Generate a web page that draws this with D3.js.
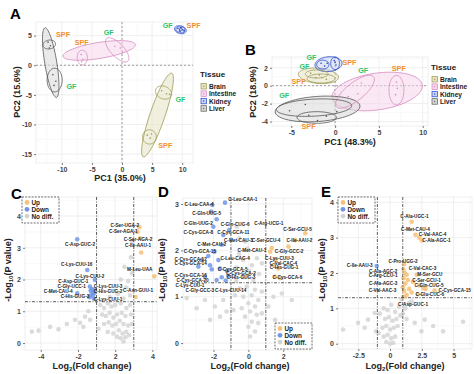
<!DOCTYPE html>
<html>
<head>
<meta charset="utf-8">
<script src="https://cdn.jsdelivr.net/npm/d3@7"></script>
<style>
  body { margin: 0; background: #fff; }
  text { font-family: "Liberation Sans", Arial, sans-serif; }
</style>
</head>
<body>
<div id="chart"></div>
<script>
// ---------- data ----------
const tissues = ["Brain", "Intestine", "Kidney", "Liver"];

// PCA ellipses: [tissue, group, cx, cy, rx, ry, angle(deg)]
const pcaAEllipses = [
  ["Liver", "all", -11.85, 0.45, 5.95, 1.0, -80.8],
  ["Liver", "SPF", -12.1, 3.5, 0.75, 1.05, -80],
  ["Liver", "GF", -11.2, -2.5, 1.25, 2.0, 0],
  ["Intestine", "all", -3.8, 2.5, 6.1, 1.35, 9.3],
  ["Intestine", "SPF", -6.6, 1.3, 0.85, 1.25, 0],
  ["Intestine", "GF", -0.8, 2.6, 2.6, 1.1, -47],
  ["Kidney", "all", 9.7, 6.0, 1.0, 0.65, -15],
  ["Kidney", "GF", 9.45, 6.05, 0.5, 0.45, 0],
  ["Kidney", "SPF", 10.0, 5.95, 0.45, 0.5, 0],
  ["Brain", "all", 5.9, -8.4, 7.45, 1.25, 71.5],
  ["Brain", "GF", 6.9, -4.6, 1.4, 1.05, -25],
  ["Brain", "SPF", 4.55, -12.1, 1.15, 1.2, 0]
];
const pcaAPoints = [
  ["Liver", -12.3, 3.9], ["Liver", -11.9, 3.3], ["Liver", -12.1, 2.9],
  ["Liver", -11.5, -1.6], ["Liver", -11.0, -2.7], ["Liver", -11.3, -3.4],
  ["Intestine", -6.8, 1.8], ["Intestine", -6.5, 1.0], ["Intestine", -6.7, 0.6],
  ["Intestine", -0.3, 2.9], ["Intestine", 0.1, 2.2], ["Intestine", -1.2, 3.2],
  ["Kidney", 9.3, 6.2], ["Kidney", 9.6, 5.9], ["Kidney", 9.8, 6.3], ["Kidney", 10.1, 6.0], ["Kidney", 10.3, 5.8],
  ["Brain", 6.6, -4.3], ["Brain", 7.4, -4.8], ["Brain", 7.9, -4.9],
  ["Brain", 4.2, -11.8], ["Brain", 4.7, -12.3], ["Brain", 4.9, -11.6]
];
const pcaALabels = [
  ["SPF", -9.8, 5.2], ["SPF", -6.7, 3.9], ["GF", -2.2, 5.6], ["GF", 7.6, 6.7],
  ["SPF", 11.9, 6.7], ["GF", -8.4, -3.6], ["GF", 9.7, -5.85], ["SPF", 7.2, -13.6]
];

const pcaBEllipses = [
  ["Intestine", "all", 4.8, -0.65, 5.2, 2.05, 8],
  ["Intestine", "GF", 2.27, -0.67, 2.7, 1.0, 38],
  ["Intestine", "SPF", 7.0, -0.5, 0.85, 1.65, 0],
  ["Liver", "all", -2.0, -2.6, 4.85, 1.4, 4],
  ["Liver", "GF", -2.4, -2.45, 4.3, 0.95, 3],
  ["Liver", "SPF", -2.1, -3.55, 2.25, 0.65, 0],
  ["Brain", "all", -1.9, 1.1, 2.3, 0.85, -5],
  ["Brain", "GF", -2.1, 1.3, 1.3, 0.45, 0],
  ["Brain", "SPF", -1.6, 0.8, 1.6, 0.5, 0],
  ["Kidney", "all", -0.75, 2.4, 1.55, 0.82, 5],
  ["Kidney", "GF", -1.4, 2.35, 0.7, 0.5, 0],
  ["Kidney", "SPF", 0.0, 2.5, 0.5, 0.7, 0]
];
const pcaBPoints = [
  ["Kidney", -1.6, 2.5], ["Kidney", -1.2, 2.2], ["Kidney", -0.9, 2.5], ["Kidney", -0.1, 2.8], ["Kidney", 0.1, 2.3], ["Kidney", 0.0, 2.6],
  ["Brain", -2.8, 1.4], ["Brain", -1.8, 1.2], ["Brain", -2.2, 0.9], ["Brain", -1.0, 0.7], ["Brain", -1.5, 0.9],
  ["Intestine", 3.0, 0.3], ["Intestine", 1.5, -1.2], ["Intestine", 2.6, -0.9], ["Intestine", 7.0, 0.4], ["Intestine", 6.9, -1.0], ["Intestine", 7.1, -0.3],
  ["Liver", -5.2, -2.8], ["Liver", -3.4, -2.1], ["Liver", 0.2, -2.9], ["Liver", -3.0, -3.3], ["Liver", -2.0, -3.9], ["Liver", -1.0, -3.4]
];
const pcaBLabels = [
  ["GF", -2.7, 3.1], ["GF", -3.5, 2.1], ["SPF", 1.63, 2.6], ["SPF", -4.17, 0.45],
  ["GF", 3.2, 1.74], ["SPF", 7.27, 1.93], ["GF", -5.8, -1.14], ["SPF", -3.03, -4.6]
];

// volcano C
const cUp = [[1.3, 3.65], [1.2, 3.5], [1.35, 3.3], [1.4, 2.85], [2.1, 2.1], [1.1, 1.45]];
const cDown = [[-2.04, 3.27], [-1.5, 2.3], [-1.09, 1.99], [-1.36, 1.78], [-1.32, 1.65], [-2.04, 1.57],
  [-1.39, 1.44], [-1.25, 1.7], [-1.2, 1.6], [-1.15, 1.4], [-1.1, 1.68], [-1.18, 1.52], [-1.3, 1.5], [-1.12, 1.58]];
const cNone = [[-4.48, 0.36], [-4.12, 0.39], [-3.5, 0.51], [-3.05, 0.43], [-2.6, 0.6], [-2.16, 0.73],
  [-1.89, 0.64], [-1.62, 0.83], [-1.44, 1.0], [-1.35, 0.73], [-1.71, 0.51],
  [-0.8, 1.2], [-0.6, 1.1], [-0.4, 1.25], [-0.2, 1.15], [0.0, 1.2], [0.3, 1.25], [0.6, 1.1], [0.8, 1.2],
  [-0.7, 0.9], [-0.5, 0.85], [-0.3, 0.95], [-0.1, 0.8], [0.1, 0.9], [0.35, 0.95], [0.55, 0.85], [0.85, 0.9],
  [-0.6, 0.6], [-0.35, 0.65], [-0.15, 0.55], [0.05, 0.6], [0.25, 0.7], [0.45, 0.6], [0.7, 0.55],
  [-0.4, 0.35], [-0.1, 0.3], [0.2, 0.4], [0.4, 0.3], [0.6, 0.35], [0.3, 0.15], [0.45, 0.05], [0.1, 0.2],
  [0.55, 0.18], [0.9, 0.6], [-0.9, 0.45], [0.75, 0.25],
  [0.9, 3.2], [0.85, 2.7], [0.5, 2.4], [0.3, 2.0], [0.6, 1.75], [0.15, 1.55], [0.8, 1.5], [-0.3, 1.45],
  [0.45, 1.4], [0.9, 2.2], [0.7, 1.95]];
const cLabels = [
  ["C-Ser-UGA-2", 0.52, 3.69], ["C-Ser-AGA-1", 0.44, 3.51], ["C-Ser-AGA-2", 1.23, 3.25],
  ["C-Ile-AAU-1", 1.23, 3.06], ["M-Leu-UAA", 1.32, 2.32], ["C-Asp-GUC-2", -1.89, 3.09],
  ["C-Lys-CUU-16", -2.07, 2.46], ["C-Lys-CUU-2", -1.36, 2.11], ["C-Asp-GUC-1", -2.25, 1.93],
  ["C-Gly-UCC-1", -2.34, 1.78], ["C-Met-CAU-4", -3.06, 1.62], ["C-His-GUG-3", -2.16, 1.46],
  ["C-Lys-CUU-3", -0.38, 1.78], ["C-His-GUG-2", -0.38, 1.62], ["C-Lys-CUU-1", -0.38, 1.38],
  ["C-Asn-GUU-1", 1.23, 1.64]
];
const cTicks = [-4, -2, 0, 2];
const cTickLabels = ["-4", "-2", "2", "4"];

// volcano D
const dUp = [[3.26, 2.37], [2.68, 2.22], [2.3, 2.08], [1.34, 2.05], [1.25, 1.97], [1.53, 1.79],
  [1.44, 1.68], [1.72, 1.61], [1.53, 1.43], [1.82, 1.4]];
const dDown = [[-1.34, 3.03], [-2.07, 2.98], [-2.14, 2.84], [-1.82, 2.67], [-2.01, 2.51], [-1.1, 2.44],
  [-1.44, 2.33], [-1.53, 2.12], [-1.95, 1.97], [-2.3, 1.88], [-1.72, 1.79], [-2.2, 1.68], [-2.1, 1.59],
  [-1.63, 1.61], [-1.24, 1.56], [-1.15, 1.45], [-1.53, 1.42], [-1.82, 1.36], [-1.3, 1.35],
  [-2.68, 1.79], [-2.87, 1.65], [-2.49, 1.43]];
const dNone = [[-0.67, 2.51], [-0.52, 2.26], [-0.2, 2.19], [-0.06, 2.04], [-0.54, 1.92], [-0.31, 1.79],
  [0.2, 1.68], [0.49, 1.83], [-0.67, 1.63], [0.04, 1.56], [0.61, 1.49], [-0.25, 1.42], [-0.69, 1.35],
  [0.29, 1.36], [0.78, 1.72],
  [-0.48, 1.18], [-0.1, 1.22], [0.38, 1.15], [0.77, 1.11], [-0.77, 1.03], [-0.29, 1.0], [0.19, 1.03],
  [0.57, 0.93], [0, 0.86], [0.38, 0.79], [-0.38, 0.75], [0.1, 0.68], [0.48, 0.61], [-0.19, 0.57],
  [0.19, 0.46], [0.57, 0.43], [0, 0.35], [0.38, 0.25], [0.1, 0.14], [0.77, 0.64], [-0.86, 0.71],
  [-3.54, 0.97], [-2.97, 0.75], [-2.49, 0.93], [-1.92, 0.79], [-1.44, 0.93], [-1.25, 0.68],
  [-1.63, 0.57], [-2.2, 0.5],
  [1.15, 0.79], [1.53, 0.5], [2.49, 0.93], [1.92, 1.07], [1.44, 1.0]];
const dLabels = [
  ["C-Leu-CAA-1", -0.32, 3.1], ["C-Leu-CAA-4", -2.83, 2.98], ["C-Gln-UUG-5", -2.39, 2.79],
  ["C-Gln-UUG-2", -2.87, 2.57], ["C-Gln-CUG-6", -0.76, 2.56], ["C-Arg-UCG-1", 1.17, 2.57],
  ["C-Ser-GCU-5", 2.82, 2.46], ["C-Cys-GCA-8", -2.87, 2.38], ["C-Cys-GCA-11", -0.86, 2.38],
  ["C-Met-CAU-3", -0.57, 2.22], ["C-Ser-GCU-4", 1.02, 2.22], ["C-Ile-AAU-2", 2.93, 2.22],
  ["C-Met-CAU-2", -2.1, 2.12], ["C-Cys-GCA-15", -2.78, 1.97], ["C-Met-CAU-1", 0.2, 1.99],
  ["C-Gly-GCC-2", 2.34, 1.97], ["C-Leu-CAG-4", -0.76, 1.83], ["C-Cys-GCA-12", -3.31, 1.81],
  ["C-Cys-GCA-14", -3.31, 1.72], ["C-Lys-CUU-3", 1.78, 1.83], ["C-Val-CAC-4", 2.01, 1.72],
  ["C-His-GUG-1", 2.05, 1.63], ["C-Cys-GCA-5", -0.9, 1.59], ["C-Cys-GCA-2", -0.42, 1.5],
  ["C-His-GUG-3", -0.42, 1.42], ["C-Cys-GCA-6", 2.24, 1.42], ["C-Cys-GCA-16", -3.31, 1.45],
  ["C-Cys-GCA-20", -3.2, 1.36], ["C-Lys-CUU-1", -3.35, 1.25], ["C-Gly-GCC-3", -2.78, 1.13],
  ["C-Lys-CUU-14", -1.01, 1.13]
];

// volcano E
const eUp = [[1.7, 3.45], [2.0, 3.08], [2.3, 3.0], [2.5, 2.92], [1.1, 2.25], [1.05, 2.1], [1.15, 2.0],
  [1.3, 1.95], [2.1, 1.95], [1.05, 1.85], [1.4, 1.8], [1.8, 1.75], [1.2, 1.7], [2.3, 1.65], [1.0, 1.6],
  [1.5, 1.55], [2.6, 1.58], [3.5, 1.5], [1.1, 1.5], [1.7, 1.45], [2.2, 1.4], [1.3, 1.38], [1.05, 1.33],
  [2.8, 1.55]];
const eDown = [[-1.05, 2.2]];
const eNone = [[-0.5, 1.0], [-0.2, 0.95], [0.1, 1.1], [0.4, 0.9], [0.7, 1.05], [-0.4, 0.7], [-0.1, 0.75],
  [0.2, 0.65], [0.5, 0.7], [0.8, 0.8], [-0.6, 0.45], [-0.3, 0.5], [0.0, 0.4], [0.3, 0.45], [0.6, 0.5],
  [-0.5, 0.2], [-0.2, 0.25], [0.1, 0.15], [0.4, 0.2], [0.0, 0.0], [-0.3, 0.05], [0.25, 0.02],
  [1.2, 1.0], [1.5, 1.15], [1.0, 0.85], [1.7, 1.2], [0.9, 1.25], [1.3, 0.7], [-0.8, 0.85], [-0.9, 0.3],
  [-3.7, 0.4], [-2.52, 0.59], [-1.73, 0.68], [-1.21, 0.87], [-2.0, 0.45], [-1.1, 0.35],
  [2.47, 0.35], [2.73, 0.68], [4.17, 0.35], [5.75, 0.62], [1.94, 0.59], [3.39, 0.5]];
const eLabels = [
  ["C-Ala-UGC-1", 1.92, 3.61], ["C-Met-CAU-4", 2.0, 3.23], ["C-Val-AAC-4", 3.34, 3.09],
  ["C-Ala-AGC-1", 3.65, 2.92], ["C-Pro-UGG-2", 1.02, 2.33], ["C-Val-CAC-3", 2.55, 2.12],
  ["M-Ser-GCU", 3.13, 1.96], ["C-Ala-AGC-2", -0.55, 2.04], ["C-Arg-CCU-1", -0.55, 1.93],
  ["C-Ser-GCU-1", 2.87, 1.79], ["C-Ala-AGC-3", -0.55, 1.7], ["C-Gln-CUG-5", 3.07, 1.64],
  ["C-Cys-GCA-15", 5.09, 1.51], ["C-Val-AAC-3", -0.6, 1.51], ["C-Glu-CUC-6", 3.13, 1.39],
  ["C-Asp-GUC-1", 1.81, 1.1], ["C-Ile-AAU-3", -2.39, 2.21]
];
const statusNames = ["Up", "Down", "No diff."];

// ---------- styles ----------
const tStroke = { Brain: "#9d9a55", Intestine: "#d58cc0", Kidney: "#2443c4", Liver: "#555555" };
const tFill = { Brain: "#e6e3c3", Intestine: "#f6d6ec", Kidney: "#c9d5f6", Liver: "#d9d9d9" };
const groupColor = { GF: "#2fc467", SPF: "#f28e2b" };
const statusColor = { "Up": "#f6c27a", "Down": "#7196e6", "No diff.": "#d2d2d2" };

const svg = d3.select("#chart").append("svg")
  .attr("width", 474)
  .attr("height", 374);

function styleAxis(ax) {
  ax.select(".domain").remove();
  ax.selectAll("line").attr("stroke", "#444").attr("stroke-width", 0.7);
  ax.selectAll("text").attr("font-size", 7).attr("font-weight", "bold").attr("fill", "#444");
}

function makePanel(p) {
  const x = d3.scaleLinear().domain(p.xd).range([p.l, p.r]);
  const y = d3.scaleLinear().domain(p.yd).range([p.b, p.t]);
  const g = svg.append("g");

  g.selectAll(".xm").data(p.xm).join("line")
    .attr("x1", d => x(d)).attr("x2", d => x(d)).attr("y1", p.t).attr("y2", p.b)
    .attr("stroke", "#f3f3f3").attr("stroke-width", 0.5);
  g.selectAll(".ym").data(p.ym).join("line")
    .attr("y1", d => y(d)).attr("y2", d => y(d)).attr("x1", p.l).attr("x2", p.r)
    .attr("stroke", "#f3f3f3").attr("stroke-width", 0.5);
  g.selectAll(".xg").data(p.xt).join("line")
    .attr("x1", d => x(d)).attr("x2", d => x(d)).attr("y1", p.t).attr("y2", p.b)
    .attr("stroke", "#e8e8e8").attr("stroke-width", 0.7);
  g.selectAll(".yg").data(p.yt).join("line")
    .attr("y1", d => y(d)).attr("y2", d => y(d)).attr("x1", p.l).attr("x2", p.r)
    .attr("stroke", "#e8e8e8").attr("stroke-width", 0.7);
  g.append("rect")
    .attr("x", p.l).attr("y", p.t).attr("width", p.r - p.l).attr("height", p.b - p.t)
    .attr("fill", "none").attr("stroke", "#e4e4e4").attr("stroke-width", 0.6);

  const xa = d3.axisBottom(x).tickValues(p.xt).tickSize(2).tickPadding(2)
    .tickFormat(p.xf || (d => String(d)));
  g.append("g").attr("transform", `translate(0,${p.b})`).call(xa).call(styleAxis);
  g.append("g").attr("transform", `translate(${p.l},0)`)
    .call(d3.axisLeft(y).tickValues(p.yt).tickSize(2).tickPadding(2).tickFormat(d => String(d)))
    .call(styleAxis);

  return { g, x, y };
}

function ellipsePath(x, y, e) {
  const [cx, cy, rx, ry, ang] = e;
  const a = ang * Math.PI / 180;
  const pts = d3.range(72).map(i => {
    const t = i / 72 * 2 * Math.PI;
    const ex = rx * Math.cos(t), ey = ry * Math.sin(t);
    return [x(cx + ex * Math.cos(a) - ey * Math.sin(a)), y(cy + ex * Math.sin(a) + ey * Math.cos(a))];
  });
  return d3.line().curve(d3.curveLinearClosed)(pts);
}

function title(txt, x, y, rotate) {
  const t = svg.append("text")
    .attr("transform", rotate ? `translate(${x},${y}) rotate(-90)` : `translate(${x},${y})`)
    .attr("text-anchor", "middle")
    .attr("font-size", 9).attr("font-weight", "bold").attr("fill", "#222");
  return t.text(txt);
}

function subTitle(parts, x, y, rotate) {
  const t = svg.append("text")
    .attr("transform", rotate ? `translate(${x},${y}) rotate(-90)` : `translate(${x},${y})`)
    .attr("text-anchor", "middle")
    .attr("font-size", 9).attr("font-weight", "bold").attr("fill", "#222");
  t.append("tspan").text(parts[0]);
  t.append("tspan").attr("font-size", 6).attr("dy", 2).text(parts[1]);
  t.append("tspan").attr("dy", -2).text(parts[2]);
}

function letter(txt, x, y) {
  svg.append("text").attr("x", x).attr("y", y)
    .attr("font-size", 15).attr("font-weight", "bold").attr("fill", "#000").text(txt);
}

function tissueLegend(x0, y0) {
  svg.append("text").attr("x", x0).attr("y", y0)
    .attr("font-size", 8).attr("font-weight", "bold").attr("fill", "#222").text("Tissue");
  tissues.forEach((t, i) => {
    const yy = y0 + 9.5 + i * 7.4;
    svg.append("rect").attr("x", x0 + 1).attr("y", yy - 3).attr("width", 5.5).attr("height", 5.5)
      .attr("fill", tFill[t]).attr("stroke", tStroke[t]).attr("stroke-width", 0.7);
    svg.append("circle").attr("cx", x0 + 3.75).attr("cy", yy - 0.25).attr("r", 0.7).attr("fill", tStroke[t]);
    svg.append("text").attr("x", x0 + 9).attr("y", yy + 2.2)
      .attr("font-size", 6.6).attr("font-weight", "bold").attr("fill", "#222").text(t);
  });
}

function pca(p, ellipses, points, labels) {
  const { g, x, y } = makePanel(p);
  g.append("line").attr("x1", x(0)).attr("x2", x(0)).attr("y1", p.t).attr("y2", p.b)
    .attr("stroke", "#777").attr("stroke-width", 0.7).attr("stroke-dasharray", "2,2");
  g.append("line").attr("y1", y(0)).attr("y2", y(0)).attr("x1", p.l).attr("x2", p.r)
    .attr("stroke", "#777").attr("stroke-width", 0.7).attr("stroke-dasharray", "2,2");

  g.selectAll(".big").data(ellipses.filter(e => e[1] === "all")).join("path")
    .attr("d", e => ellipsePath(x, y, e.slice(2)))
    .attr("fill", e => tFill[e[0]]).attr("fill-opacity", 0.55)
    .attr("stroke", e => tStroke[e[0]]).attr("stroke-width", 0.8);
  g.selectAll(".small").data(ellipses.filter(e => e[1] !== "all")).join("path")
    .attr("d", e => ellipsePath(x, y, e.slice(2)))
    .attr("fill", "none")
    .attr("stroke", e => tStroke[e[0]]).attr("stroke-width", 0.8);
  g.selectAll(".pt").data(points).join("circle")
    .attr("cx", d => x(d[1])).attr("cy", d => y(d[2])).attr("r", 0.8)
    .attr("fill", d => tStroke[d[0]]);
  g.selectAll(".lab").data(labels).join("text")
    .attr("x", d => x(d[1])).attr("y", d => y(d[2]))
    .attr("text-anchor", "middle").attr("dominant-baseline", "central")
    .attr("font-size", 7.2).attr("font-weight", "bold")
    .attr("fill", d => groupColor[d[0]]).text(d => d[0]);
}

function volcano(p, up, down, none, labels, leg) {
  const { g, x, y } = makePanel(p);
  const thr = -Math.log10(0.05);

  g.selectAll(".none").data(none).join("circle")
    .attr("cx", d => x(d[0])).attr("cy", d => y(d[1])).attr("r", 2.3)
    .attr("fill", statusColor["No diff."]).attr("fill-opacity", 0.8);
  g.selectAll(".down").data(down).join("circle")
    .attr("cx", d => x(d[0])).attr("cy", d => y(d[1])).attr("r", 2.3)
    .attr("fill", statusColor["Down"]).attr("fill-opacity", 0.85);
  g.selectAll(".up").data(up).join("circle")
    .attr("cx", d => x(d[0])).attr("cy", d => y(d[1])).attr("r", 2.3)
    .attr("fill", statusColor["Up"]).attr("fill-opacity", 0.9);

  [-1, 1].forEach(v => {
    g.append("line").attr("x1", x(v)).attr("x2", x(v)).attr("y1", p.t).attr("y2", p.b)
      .attr("stroke", "#333").attr("stroke-width", 0.8).attr("stroke-dasharray", "3,1.5,1,1.5");
  });
  g.append("line").attr("y1", y(thr)).attr("y2", y(thr)).attr("x1", p.l).attr("x2", p.r)
    .attr("stroke", "#333").attr("stroke-width", 0.8).attr("stroke-dasharray", "3,1.5,1,1.5");

  g.selectAll(".lab").data(labels).join("text")
    .attr("x", d => x(d[1])).attr("y", d => y(d[2]))
    .attr("text-anchor", "middle").attr("dominant-baseline", "central")
    .attr("font-size", 4.7).attr("font-weight", "bold").attr("fill", "#222")
    .text(d => d[0]);

  // legend box
  const lg = g.append("g").attr("transform", `translate(${leg[0]},${leg[1]})`);
  lg.append("rect").attr("width", 37).attr("height", 26)
    .attr("fill", "#fff").attr("fill-opacity", 0.9)
    .attr("stroke", "#333").attr("stroke-width", 0.7).attr("stroke-dasharray", "2,1.2");
  statusNames.forEach((s, i) => {
    lg.append("circle").attr("cx", 5).attr("cy", 5.5 + i * 6.8).attr("r", 2.4).attr("fill", statusColor[s]);
    lg.append("text").attr("x", 9.5).attr("y", 5.5 + i * 6.8).attr("dominant-baseline", "central")
      .attr("font-size", 6.4).attr("font-weight", "bold").attr("fill", "#222").text(s);
  });
}

// ---------- panel A ----------
pca({ l: 36, r: 193, t: 22, b: 163, xd: [-14.3, 11.8], yd: [-16.5, 7.3],
  xt: [-10, -5, 0, 5, 10], yt: [-15, -10, -5, 0, 5],
  xm: [-12.5, -7.5, -2.5, 2.5, 7.5], ym: [-12.5, -7.5, -2.5, 2.5] },
  pcaAEllipses, pcaAPoints, pcaALabels);
title("PC1 (35.0%)", 120, 181);
title("PC2 (15.6%)", 20, 92, true);
tissueLegend(200, 77);
letter("A", 10, 19);

// ---------- panel B ----------
pca({ l: 272, r: 428, t: 57, b: 126, xd: [-7.2, 10.6], yd: [-4.5, 3.2],
  xt: [-5, 0, 5, 10], yt: [-4, -2, 0, 2],
  xm: [-2.5, 2.5, 7.5], ym: [-3, -1, 1, 3] },
  pcaBEllipses, pcaBPoints, pcaBLabels);
title("PC1 (48.3%)", 350, 145);
title("PC2 (18.9%)", 256, 92, true);
tissueLegend(431, 70);
letter("B", 245, 55);

// ---------- panel C ----------
volcano({ l: 25, r: 157, t: 197, b: 350, xd: [-4.85, 2.25], yd: [-0.22, 4.6],
  xt: cTicks, yt: [0, 1, 2, 3, 4], xf: (d, i) => cTickLabels[i],
  xm: [-3, -1, 1], ym: [0.5, 1.5, 2.5, 3.5, 4.5] },
  cUp, cDown, cNone, cLabels, [22, 197]);
subTitle(["Log", "2", "(Fold change)"], 92, 369);
subTitle(["-Log", "10", "(P value)"], 11, 270, true);
letter("C", 11, 199);

// ---------- panel D ----------
volcano({ l: 183, r: 312, t: 198, b: 350, xd: [-3.75, 3.65], yd: [-0.15, 3.13],
  xt: [-2, 0, 2], yt: [0, 1, 2, 3],
  xm: [-3, -1, 1, 3], ym: [0.5, 1.5, 2.5] },
  dUp, dDown, dNone, dLabels, [275, 323]);
subTitle(["Log", "2", "(Fold change)"], 250, 369);
subTitle(["-Log", "10", "(P value)"], 165, 270, true);
letter("D", 158, 197);

// ---------- panel E ----------
volcano({ l: 338, r: 472, t: 197, b: 349, xd: [-4.1, 6.45], yd: [-0.15, 4.15],
  xt: [-2.5, 0, 2.5, 5], yt: [0, 1, 2, 3, 4],
  xm: [-3.75, -1.25, 1.25, 3.75, 6.25], ym: [0.5, 1.5, 2.5, 3.5] },
  eUp, eDown, eNone, eLabels, [338, 197]);
subTitle(["Log", "2", "(Fold change)"], 405, 369);
subTitle(["-Log", "10", "(P value)"], 325, 270, true);
letter("E", 321, 197);
</script>
</body>
</html>
